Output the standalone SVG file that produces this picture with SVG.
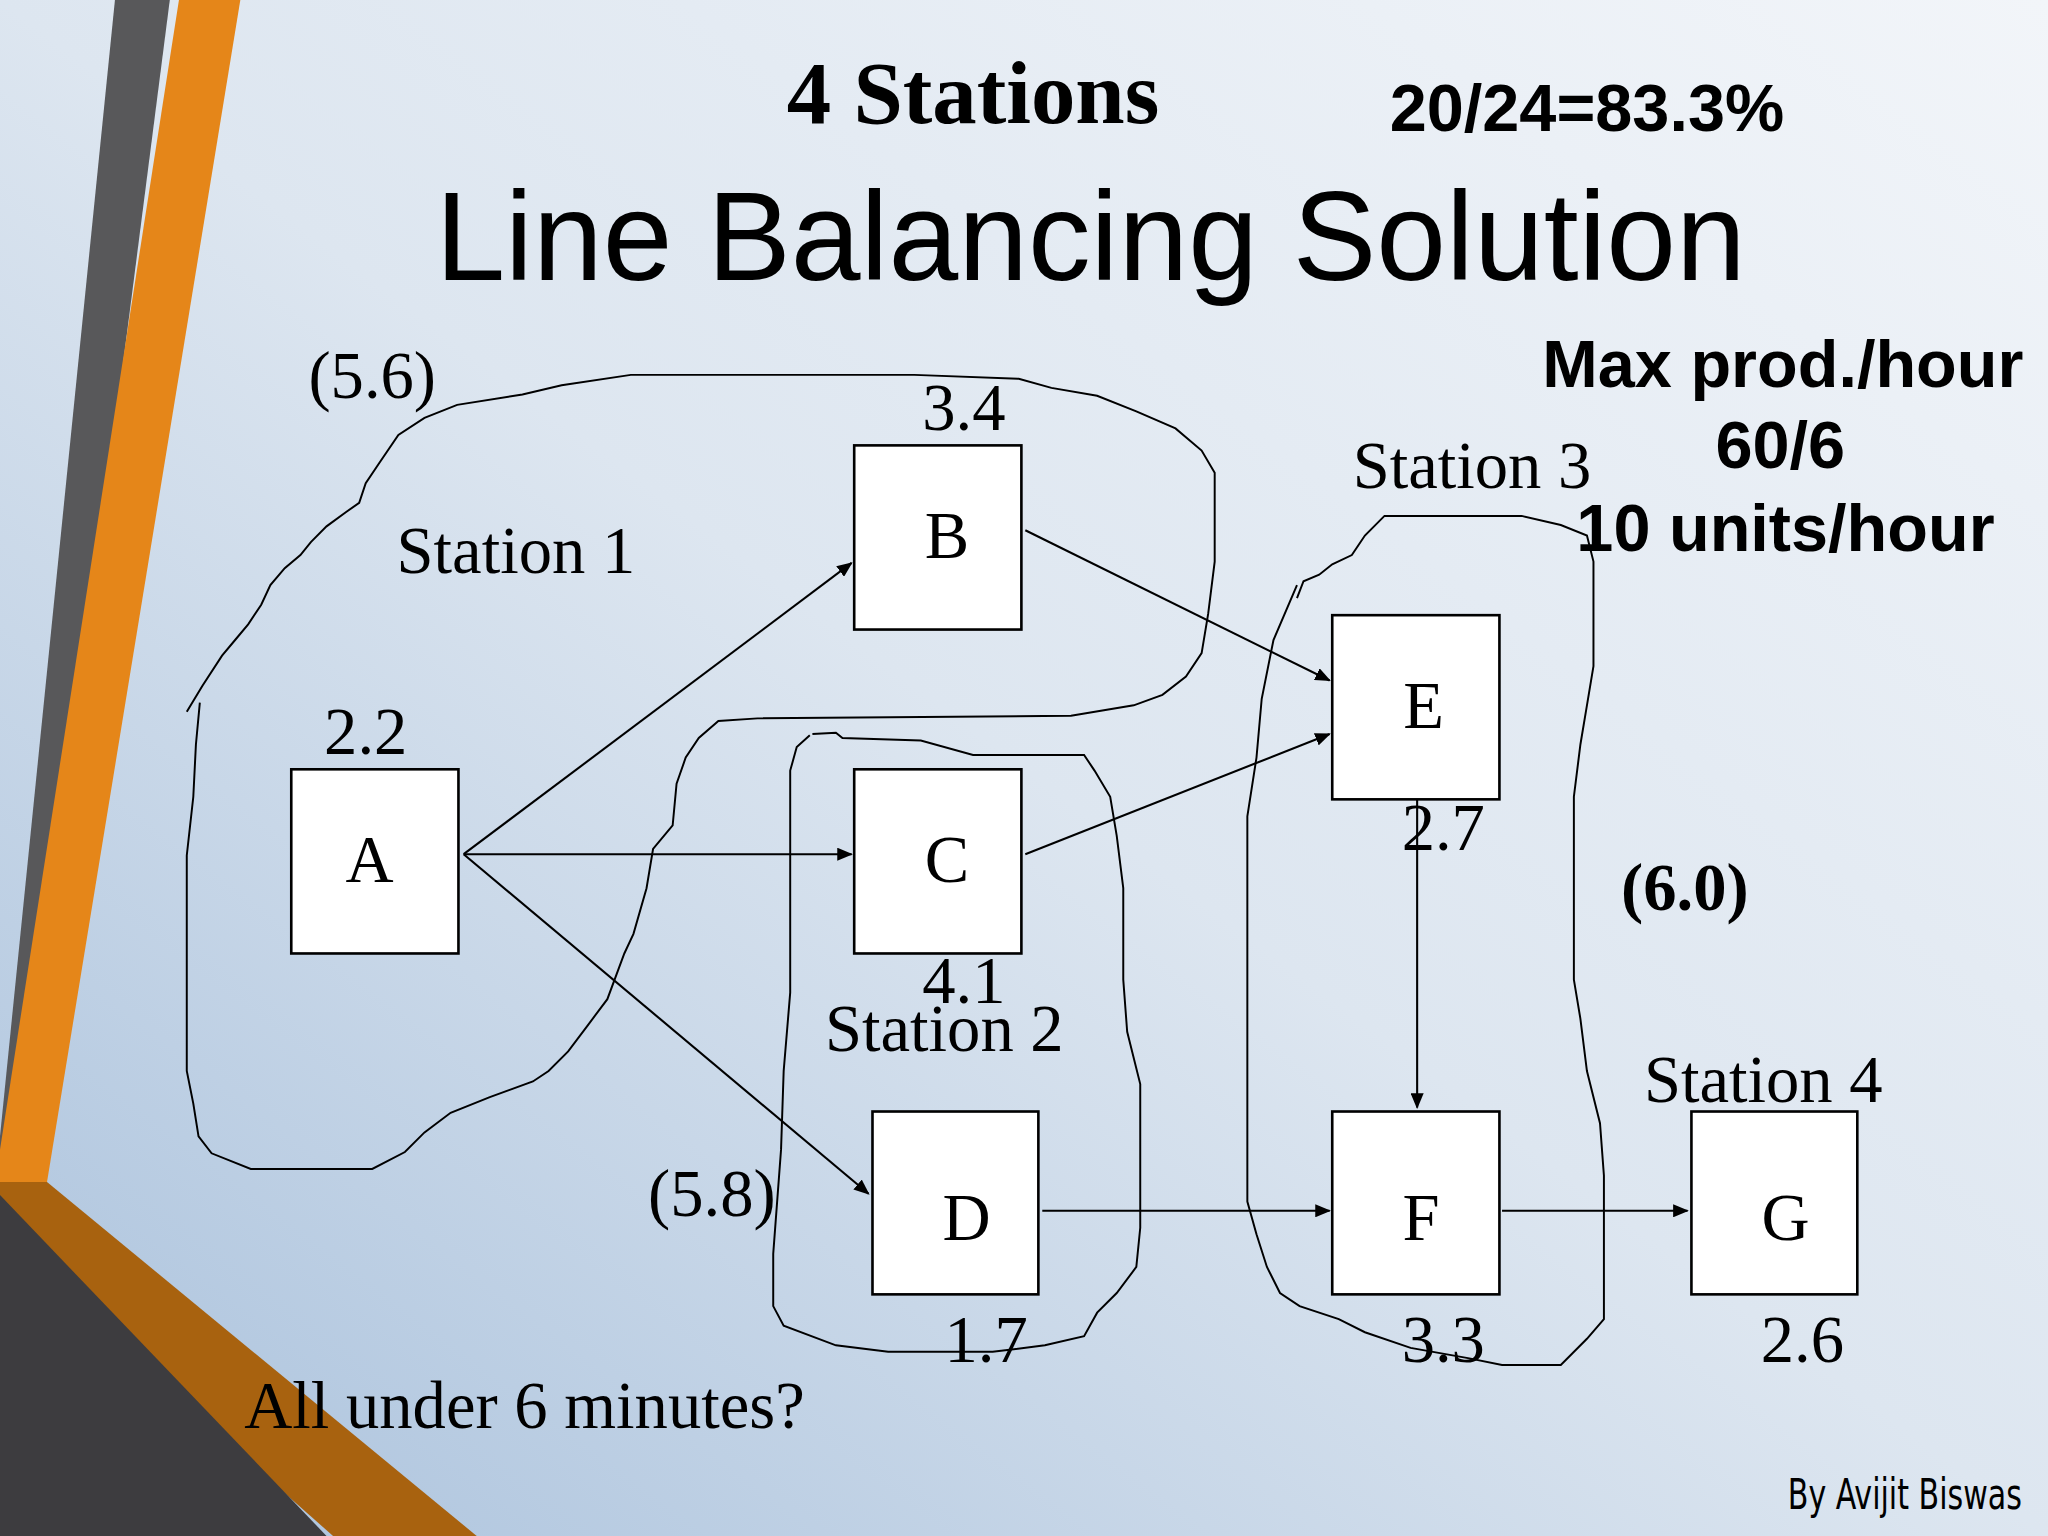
<svg xmlns="http://www.w3.org/2000/svg" width="2048" height="1536" viewBox="0 0 2048 1536">
<defs>
<linearGradient id="bg" x1="1" y1="0" x2="0" y2="1">
<stop offset="0" stop-color="#f2f5f9"/><stop offset="0.5" stop-color="#dde6f0"/><stop offset="1" stop-color="#a9c1dc"/>
</linearGradient>
<marker id="ah" markerWidth="12" markerHeight="10" refX="11" refY="5" orient="auto" markerUnits="userSpaceOnUse"><path d="M0,0 L12,5 L0,10 Z" fill="#000"/></marker>
<style>
.box{fill:#fff;stroke:#000;stroke-width:2}
.t{font-family:"Liberation Serif",serif;font-size:51px;fill:#000}
.c{text-anchor:middle}
.a{font-family:"Liberation Sans",sans-serif;font-weight:bold;fill:#000;text-anchor:middle}
.ln{stroke:#000;stroke-width:1.6;fill:none}
.fh{stroke:#000;stroke-width:1.5;fill:none}
</style>
</defs>
<g transform="scale(1.30612)">
<rect width="1568" height="1176" fill="url(#bg)"/>
<g id="deco">
<polygon points="88,0 130,0 22,840 0,900 0,870" fill="#58585a"/>
<polygon points="137,0 184,0 36,905 0,905 0,880" fill="#e58619"/>
<polygon points="0,905 36,905 365,1176 255,1176 0,950" fill="#a8620f"/>
<polygon points="0,915 250,1176 0,1176" fill="#3d3c3f"/>
</g>
<g id="titles">
<text x="745" y="94" font-family="Liberation Serif,serif" font-weight="bold" font-size="68" text-anchor="middle">4 Stations</text>
<text x="1215" y="100" class="a" font-size="51">20/24=83.3%</text>
<text x="835" y="214" font-family="Liberation Sans,sans-serif" font-size="96" text-anchor="middle">Line Balancing Solution</text>
<text x="1365" y="296" class="a" font-size="51">Max prod./hour</text>
<text x="1363" y="358" class="a" font-size="51">60/6</text>
<text x="1367" y="422" class="a" font-size="51">10 units/hour</text>
<text x="285" y="305" class="t c">(5.6)</text>
<text x="1290" y="697" class="t c" font-weight="bold">(6.0)</text>
<text x="545" y="931" class="t c">(5.8)</text>
<text x="187" y="1093" class="t">All under 6 minutes?</text>
<text x="1548" y="1155" font-family="DejaVu Sans Condensed,sans-serif" font-size="32" text-anchor="end" transform="translate(1548,0) scale(0.8,1) translate(-1548,0)">By Avijit Biswas</text>
<text x="395" y="439" class="t c">Station 1</text>
<text x="723" y="805" class="t c">Station 2</text>
<text x="1127" y="374" class="t c">Station 3</text>
<text x="1350" y="844" class="t c">Station 4</text>
</g>
<g id="curves">
<polyline class="fh" points="143,545 155,525 170,502 180,490 190,478 200,463 207,448 218,435 230,425 238,415 250,403 265,392 275,385 280,370 290,355 305,333 325,320 350,310 400,302 430,295 483,287 700,287 780,290 805,297 840,303 870,315 900,328 920,345 930,362 930,430 925,470 920,500 908,518 890,532 868,540 820,548 580,550 550,552 535,565 525,580 518,600 515,632 500,650 495,680 485,715 478,730 465,765 450,785 435,805 420,820 408,828 375,840 345,852 325,867 310,882 285,895 192,895 162,883 152,870 148,845 143,820 143,655 148,610 150,570 153,538"/>
<polyline class="fh" points="620,563 610,572 605,590 605,760 600,820 598,880 592,960 592,1000 600,1015 640,1030 680,1035 760,1035 800,1030 830,1023 840,1005 855,990 870,970 873,940 873,830 863,790 860,750 860,680 855,640 850,610 838,590 830,578 745,578 705,567 645,565 640,561 622,562"/>
<polyline class="fh" points="993,458 998,445 1010,440 1020,432 1035,425 1045,410 1060,395 1165,395 1195,402 1215,410 1220,430 1220,510 1215,540 1210,570 1205,610 1205,750 1210,780 1215,820 1225,860 1228,900 1228,1010 1215,1025 1195,1045 1150,1045 1125,1040 1080,1032 1045,1020 1025,1010 995,1000 980,990 970,970 962,945 955,920 955,625 962,580 966,535 975,490 993,448"/>
</g>
<g id="connectors">
<line class="ln" x1="355" y1="654" x2="652" y2="431" marker-end="url(#ah)"/>
<line class="ln" x1="355" y1="654" x2="652" y2="654" marker-end="url(#ah)"/>
<line class="ln" x1="355" y1="654" x2="665" y2="914" marker-end="url(#ah)"/>
<line class="ln" x1="785" y1="406" x2="1018" y2="521" marker-end="url(#ah)"/>
<line class="ln" x1="785" y1="654" x2="1018" y2="562" marker-end="url(#ah)"/>
<line class="ln" x1="1085" y1="612" x2="1085" y2="848" marker-end="url(#ah)"/>
<line class="ln" x1="798" y1="927" x2="1018" y2="927" marker-end="url(#ah)"/>
<line class="ln" x1="1150" y1="927" x2="1292" y2="927" marker-end="url(#ah)"/>
</g>
<g id="A"><rect class="box" x="223" y="589" width="128" height="141"/><text x="283" y="675" class="t c">A</text><text x="280" y="577" class="t c">2.2</text></g>
<g id="B"><rect class="box" x="654" y="341" width="128" height="141"/><text x="725" y="427" class="t c">B</text><text x="738" y="329" class="t c">3.4</text></g>
<g id="C"><rect class="box" x="654" y="589" width="128" height="141"/><text x="725" y="675" class="t c">C</text><text x="738" y="768" class="t c">4.1</text></g>
<g id="E"><rect class="box" x="1020" y="471" width="128" height="141"/><text x="1090" y="557" class="t c">E</text><text x="1105" y="651" class="t c">2.7</text></g>
<g id="D"><rect class="box" x="668" y="851" width="127" height="140"/><text x="740" y="949" class="t c">D</text><text x="755" y="1043" class="t c">1.7</text></g>
<g id="F"><rect class="box" x="1020" y="851" width="128" height="140"/><text x="1088" y="949" class="t c">F</text><text x="1105" y="1043" class="t c">3.3</text></g>
<g id="G"><rect class="box" x="1295" y="851" width="127" height="140"/><text x="1367" y="949" class="t c">G</text><text x="1380" y="1043" class="t c">2.6</text></g>
</g>
</svg>
